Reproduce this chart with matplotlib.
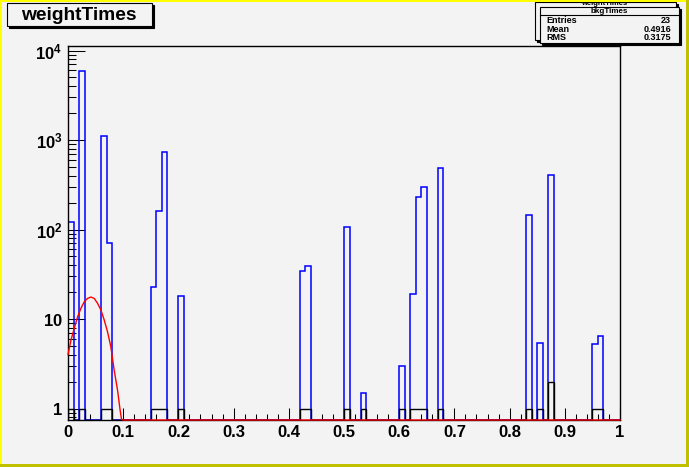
import numpy as np
import matplotlib
matplotlib.use("Agg")
import matplotlib.pyplot as plt
from matplotlib.patches import Rectangle
from matplotlib.transforms import Bbox
from matplotlib.ticker import FixedLocator, LogLocator, NullFormatter

plt.rcParams['font.family'] = ['Liberation Sans', 'DejaVu Sans']
plt.rcParams['font.weight'] = 'bold'
plt.rcParams['mathtext.fontset'] = 'custom'
plt.rcParams['mathtext.rm'] = 'Liberation Sans:bold'
plt.rcParams['mathtext.bf'] = 'Liberation Sans:bold'
plt.rcParams['mathtext.it'] = 'Liberation Sans:bold'

# ---------------- data ----------------
n_bins = 100
x_min, x_max = 0.0, 1.0

# weightTimes (blue): bin lower edges and contents
blue_lo = [0.00, 0.02, 0.06, 0.07, 0.15, 0.16, 0.17, 0.20, 0.42, 0.43, 0.50,
           0.53, 0.60, 0.62, 0.63, 0.64, 0.67, 0.83, 0.85, 0.87, 0.95, 0.96]
blue_val = [122, 5960, 1100, 70.6, 23, 160, 728, 17.9, 34.1, 39.1, 107,
            1.48, 2.96, 19, 229, 296, 483, 144, 5.35, 404, 5.2, 6.4]

# bkgTimes (black)
black_lo = [0.00, 0.02, 0.06, 0.07, 0.15, 0.16, 0.17, 0.20, 0.42, 0.43, 0.50,
            0.53, 0.60, 0.62, 0.63, 0.64, 0.67, 0.83, 0.85, 0.87, 0.95, 0.96]
black_val = [1, 1, 1, 1, 1, 1, 1, 1, 1, 1, 1,
             1, 1, 1, 1, 1, 1, 1, 1, 2, 1, 1]

# fitted function (red)
red_x = [0.0, 0.0054, 0.0114, 0.0174, 0.0235, 0.0295, 0.0355, 0.0415, 0.0475,
         0.0535, 0.0596, 0.0656, 0.0716, 0.0776, 0.0836, 0.0897, 0.0944,
         0.0969, 0.1, 1.0]
red_y = [4.0, 5.8, 7.9, 10.6, 13.2, 15.6, 17.0, 17.6, 17.0,
         15.0, 12.6, 9.75, 7.2, 4.9, 2.69, 1.61, 0.96,
         0.76, 0.3, 0.0]

x_ticks = [0, 0.1, 0.2, 0.3, 0.4, 0.5, 0.6, 0.7, 0.8, 0.9, 1.0]
x_ticklabels = ['0', '0.1', '0.2', '0.3', '0.4', '0.5', '0.6', '0.7', '0.8', '0.9', '1']
y_ticks = [1, 10, 100, 1000, 10000]
y_ticklabels = [r'$\mathbf{1}$', r'$\mathbf{10}$', r'$\mathbf{10^{2}}$',
                r'$\mathbf{10^{3}}$', r'$\mathbf{10^{4}}$']

stats_name = 'bkgTimes'
stats_rows = [('Entries', '23'), ('Mean', '0.4916'), ('RMS', '0.3175')]
back_stats_name = 'weightTimes'
title = 'weightTimes'

y_min, y_max = 0.744, 11230

# ---------------- figure ----------------
W, H = 689, 467
bg = '#f3f3f3'
fig = plt.figure(figsize=(W / 100, H / 100), dpi=100)
fig.patch.set_facecolor(bg)

def px(x0, y0, w, h):
    """pixel box (top-left origin) -> figure fraction rect"""
    return (x0 / W, 1 - (y0 + h) / H, w / W, h / H)

ax = fig.add_axes(px(68, 46, 552, 374))
ax.set_facecolor(bg)

edges = np.linspace(x_min, x_max, n_bins + 1)

def fill_bins(lo, val):
    arr = np.zeros(n_bins)
    idx = np.rint(np.array(lo) * n_bins).astype(int)
    arr[idx] = val
    return np.maximum(arr, y_min)

blue_arr = fill_bins(blue_lo, blue_val)
black_arr = fill_bins(black_lo, black_val)

ax.stairs(blue_arr, edges, baseline=y_min, color='#0000ff', lw=1.1, zorder=2)
ax.stairs(black_arr, edges, baseline=y_min, color='black', lw=1.0, zorder=2.2)
ax.plot(red_x, np.maximum(np.array(red_y, dtype=float), y_min), color='#ff0000',
        lw=1.0, zorder=3, clip_on=False)

ax.set_yscale('log')
ax.set_xlim(x_min, x_max)
ax.set_ylim(y_min, y_max)

ax.xaxis.set_major_locator(FixedLocator(x_ticks))
ax.set_xticklabels(x_ticklabels)
ax.xaxis.set_minor_locator(FixedLocator(np.arange(0, 1.0001, 0.02)))
ax.yaxis.set_major_locator(FixedLocator(y_ticks))
ax.set_yticklabels(y_ticklabels)
ax.yaxis.set_minor_locator(LogLocator(base=10, subs=np.arange(2, 10)))
ax.yaxis.set_minor_formatter(NullFormatter())

ax.tick_params(axis='x', which='major', direction='in', length=8.3, width=0.75,
               labelsize=12, pad=3.5, top=False)
ax.tick_params(axis='x', which='minor', direction='in', length=4.2, width=0.75, top=False)
ax.tick_params(axis='y', which='major', direction='in', length=12.2, width=0.75,
               labelsize=12, pad=4, right=False)
ax.tick_params(axis='y', which='minor', direction='in', length=6.1, width=0.75, right=False)
for lab in ax.get_xticklabels() + ax.get_yticklabels():
    lab.set_fontweight('bold')
for s in ax.spines.values():
    s.set_linewidth(1.0)
    s.set_color('black')

# ---------------- boxes ----------------
def box(x0, y0, w, h, z, shadow=2):
    fig.patches.append(Rectangle(px(x0 + shadow, y0 + shadow, w, h)[:2],
                                 w / W, h / H, transform=fig.transFigure,
                                 facecolor='black', edgecolor='black', lw=0.8, zorder=z))
    fig.patches.append(Rectangle(px(x0, y0, w, h)[:2], w / W, h / H,
                                 transform=fig.transFigure, facecolor=bg,
                                 edgecolor='black', lw=0.8, zorder=z + 0.1))

# title box
box(7, 3, 145, 23, 5)
fig.text(79 / W, 1 - 15 / H, title, ha='center', va='center', fontsize=13.8,
         fontweight='bold', zorder=6)

# back stats box (weightTimes) - its title is mostly hidden by the front box
box(535, 2, 141, 38, 5)
t_back = fig.text(604 / W, 1 - 3.6 / H, back_stats_name, ha='center', va='center',
                  fontsize=5.5, fontweight='bold', zorder=5.5)
t_back.set_clip_box(Bbox.from_extents(535, H - 7, 676, H - 2))
t_back.set_clip_on(True)

# front stats box (bkgTimes)
box(540, 7, 139, 36, 7)
fig.text(609.5 / W, 1 - 11.8 / H, stats_name, ha='center', va='center',
         fontsize=5.8, fontweight='bold', zorder=8)
fig.lines.append(plt.Line2D([540 / W, 679 / W], [1 - 15.3 / H, 1 - 15.3 / H],
                            transform=fig.transFigure, color='black', lw=0.8, zorder=8))
row_y = [20.5, 29.5, 38]
for (k, v), yy in zip(stats_rows, row_y):
    fig.text(546 / W, 1 - yy / H, k, ha='left', va='center', fontsize=6.5,
             fontweight='bold', zorder=8)
    fig.text(671 / W, 1 - yy / H, v, ha='right', va='center', fontsize=6.5,
             fontweight='bold', zorder=8)

# pad border (raised)
yel, olive = '#ffff00', '#c0c000'
for (x0, y0, w, h, c) in [(0, 0, 2, H, yel), (0, 0, W, 2, yel),
                          (W - 3, 0, 3, H, olive), (0, H - 3, W, 3, olive)]:
    fig.patches.append(Rectangle(px(x0, y0, w, h)[:2], w / W, h / H,
                                 transform=fig.transFigure, facecolor=c,
                                 edgecolor='none', zorder=10))

fig.savefig('out.png', dpi=100, facecolor=bg)
